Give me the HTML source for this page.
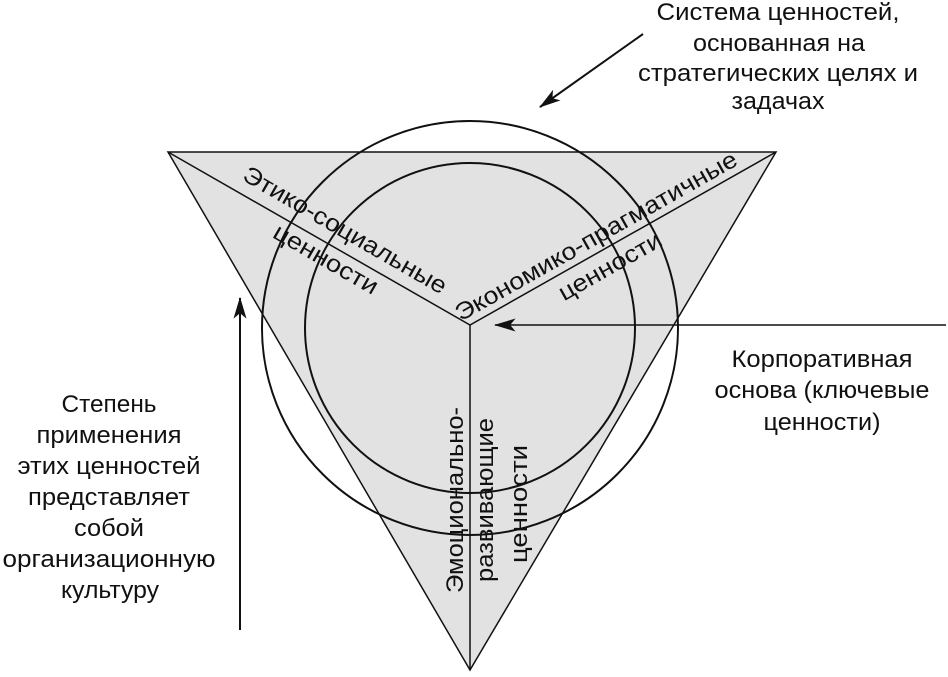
<!DOCTYPE html>
<html><head><meta charset="utf-8"><style>
html,body{margin:0;padding:0;background:#fff}
svg{display:block}
text{font-family:"Liberation Sans",sans-serif;fill:#111}
</style></head><body>
<svg width="948" height="677" viewBox="0 0 948 677" xmlns="http://www.w3.org/2000/svg">
<defs>
<marker id="b" viewBox="0 0 20 12" refX="19" refY="6" markerWidth="22" markerHeight="13" markerUnits="userSpaceOnUse" orient="auto"><path d="M0,0 L20,6 L0,12 L5,6 z" fill="#111"/></marker></defs>
<polygon points="168,152 776,152 470,670" fill="#e2e2e2" stroke="#111" stroke-width="1.5"/>
<ellipse cx="470" cy="328" rx="208" ry="207" fill="none" stroke="#111" stroke-width="2"/>
<ellipse cx="470" cy="328" rx="165" ry="165" fill="none" stroke="#111" stroke-width="2"/>
<polyline points="168,152 470,325 776,152" fill="none" stroke="#111" stroke-width="1.5"/>
<line x1="470" y1="325" x2="470" y2="670" stroke="#111" stroke-width="1.5"/>
<g font-size="24">
<text transform="translate(341,237) rotate(30)" text-anchor="middle" textLength="231" lengthAdjust="spacingAndGlyphs">Этико-социальные</text>
<text transform="translate(322,266) rotate(30)" text-anchor="middle" textLength="117" lengthAdjust="spacingAndGlyphs">ценности</text>
<text transform="translate(600,243) rotate(-29.5)" text-anchor="middle" textLength="320" lengthAdjust="spacingAndGlyphs">Экономико-прагматичные</text>
<text transform="translate(614,273) rotate(-29.5)" text-anchor="middle" textLength="115" lengthAdjust="spacingAndGlyphs">ценности</text>
<text transform="translate(463,500) rotate(-90)" text-anchor="middle" textLength="186" lengthAdjust="spacingAndGlyphs">Эмоционально-</text>
<text transform="translate(493,500) rotate(-90)" text-anchor="middle" textLength="164" lengthAdjust="spacingAndGlyphs">развивающие</text>
<text transform="translate(527,504) rotate(-90)" text-anchor="middle" textLength="118" lengthAdjust="spacingAndGlyphs">ценности</text>
</g>
<g font-size="24" text-anchor="middle">
<text x="778" y="20" textLength="243" lengthAdjust="spacingAndGlyphs">Система ценностей,</text>
<text x="779" y="51" textLength="172" lengthAdjust="spacingAndGlyphs">основанная на</text>
<text x="778" y="81" textLength="280" lengthAdjust="spacingAndGlyphs">стратегических целях и</text>
<text x="778" y="109" textLength="93" lengthAdjust="spacingAndGlyphs">задачах</text>
<text x="822" y="367" textLength="181" lengthAdjust="spacingAndGlyphs">Корпоративная</text>
<text x="822" y="398" textLength="215" lengthAdjust="spacingAndGlyphs">основа (ключевые</text>
<text x="822" y="430" textLength="117" lengthAdjust="spacingAndGlyphs">ценности)</text>
<text x="109" y="412" textLength="95" lengthAdjust="spacingAndGlyphs">Степень</text>
<text x="109" y="443" textLength="145" lengthAdjust="spacingAndGlyphs">применения</text>
<text x="109" y="474" textLength="183" lengthAdjust="spacingAndGlyphs">этих ценностей</text>
<text x="109" y="505" textLength="162" lengthAdjust="spacingAndGlyphs">представляет</text>
<text x="109" y="536" textLength="70" lengthAdjust="spacingAndGlyphs">собой</text>
<text x="109" y="567" textLength="213" lengthAdjust="spacingAndGlyphs">организационную</text>
<text x="110" y="598" textLength="98" lengthAdjust="spacingAndGlyphs">культуру</text>
</g>
<line x1="643" y1="34" x2="540" y2="107" stroke="#111" stroke-width="2" marker-end="url(#b)"/>
<line x1="240" y1="630" x2="240" y2="298" stroke="#111" stroke-width="2" marker-end="url(#b)"/>
<line x1="946" y1="325" x2="495" y2="325" stroke="#111" stroke-width="1.5" marker-end="url(#b)"/>
</svg>
</body></html>
